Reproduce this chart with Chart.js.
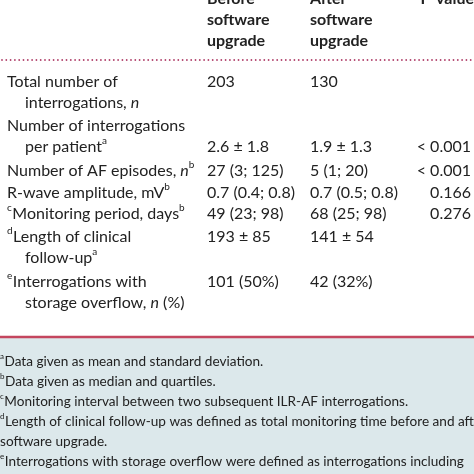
<!DOCTYPE html>
<html><head><meta charset="utf-8">
<script src="https://cdn.jsdelivr.net/npm/chart.js@4"></script>
<style>html,body{margin:0;padding:0;background:#fff}#c{display:block}</style>
</head><body>
<div style="width:474px;height:474px"><canvas id="c"></canvas></div>
<script>
const headerBefore = ["Before", "software", "upgrade"];
const headerAfter = ["After", "software", "upgrade"];
const headerP = ["P-value"];
const rowLabels = [
  ["Total number of", "  interrogations, *n*"],
  ["Number of interrogations", "  per patient^a"],
  ["Number of AF episodes, *n*^b"],
  ["R-wave amplitude, mV^b"],
  ["^cMonitoring period, days^b"],
  ["^dLength of clinical", "  follow-up^a"],
  ["^eInterrogations with", "  storage overflow, *n* (%)"]
];
const beforeVals = ["203", "2.6 ± 1.8", "27 (3; 125)", "0.7 (0.4; 0.8)", "49 (23; 98)", "193 ± 85", "101 (50%)"];
const afterVals = ["130", "1.9 ± 1.3", "5 (1; 20)", "0.7 (0.5; 0.8)", "68 (25; 98)", "141 ± 54", "42 (32%)"];
const pVals = ["", "< 0.001", "< 0.001", "0.166", "0.276", "", ""];
const footnotes = [
  "^aData given as mean and standard deviation.",
  "^bData given as median and quartiles.",
  "^cMonitoring interval between two subsequent ILR-AF interrogations.",
  "^dLength of clinical follow-up was defined as total monitoring time before and after",
  "software upgrade.",
  "^eInterrogations with storage overflow were defined as interrogations including",
  "automatic episodes without available ECM."
];
const rowY = [82, 126, 171, 193, 214, 237, 282];
const FONT = "Lato, 'Open Sans', sans-serif";

function drawRich(ctx, str, x, y, size, color) {
  let indent = 0;
  if (str.startsWith("  ")) { indent = 18; str = str.slice(2); }
  x += indent;
  const re = /(\*[^*]+\*|\^[a-e])/g;
  const parts = str.split(re).filter(s => s.length);
  for (const p of parts) {
    let t = p, font = size + "px " + FONT, dy = 0;
    if (p.startsWith("*")) { t = p.slice(1, -1); font = "italic " + size + "px " + FONT; }
    else if (p.startsWith("^")) { t = p.slice(1); font = Math.round(size * 0.6) + "px " + FONT; dy = -size * 0.38; }
    ctx.font = font; ctx.fillStyle = color;
    ctx.fillText(t, x, y + dy);
    x += ctx.measureText(t).width + (p.startsWith("^") ? 0.5 : 0);
  }
}

const tablePlugin = {
  id: "table",
  afterDraw(chart) {
    const ctx = chart.ctx;
    ctx.save();
    ctx.textBaseline = "middle";
    ctx.fillStyle = "#dce8eb"; ctx.fillRect(0, 338, 474, 136);
    ctx.strokeStyle = "#c4455e"; ctx.lineWidth = 2.5;
    ctx.beginPath(); ctx.moveTo(0, 337); ctx.lineTo(474, 337); ctx.stroke();
    ctx.fillStyle = "#b0406a";
    for (let x = 2; x < 474; x += 4.3) { ctx.beginPath(); ctx.arc(x, 60, 0.9, 0, 7); ctx.fill(); }
    ctx.font = "bold 16px " + FONT; ctx.fillStyle = "#222";
    headerBefore.forEach((t, i) => ctx.fillText(t, 207, -1 + i * 21));
    headerAfter.forEach((t, i) => ctx.fillText(t, 310, -1 + i * 21));
    ctx.textAlign = "right"; ctx.fillText(headerP[0], 474, -1); ctx.textAlign = "left";
    rowLabels.forEach((lines, r) => {
      lines.forEach((l, j) => drawRich(ctx, l, 7, rowY[r] + j * 21, 16, "#222"));
      ctx.font = "16px " + FONT; ctx.fillStyle = "#222";
      const yb = r === 1 ? rowY[r] + 21 : rowY[r];
      ctx.fillText(beforeVals[r], 207, yb);
      ctx.fillText(afterVals[r], 310, yb);
      ctx.textAlign = "right"; ctx.fillText(pVals[r], 471, yb); ctx.textAlign = "left";
    });
    footnotes.forEach((f, i) => drawRich(ctx, f, 0, 362 + i * 20, 13.6, "#222"));
    ctx.restore();
  }
};

new Chart(document.getElementById("c"), {
  type: "bar",
  data: { labels: beforeVals, datasets: [{ data: [], backgroundColor: "transparent" }] },
  options: {
    responsive: true, maintainAspectRatio: false, animation: false,
    layout: { padding: 0 },
    plugins: { legend: { display: false }, tooltip: { enabled: false } },
    scales: { x: { display: false }, y: { display: false } }
  },
  plugins: [tablePlugin]
});
</script>
</body></html>
